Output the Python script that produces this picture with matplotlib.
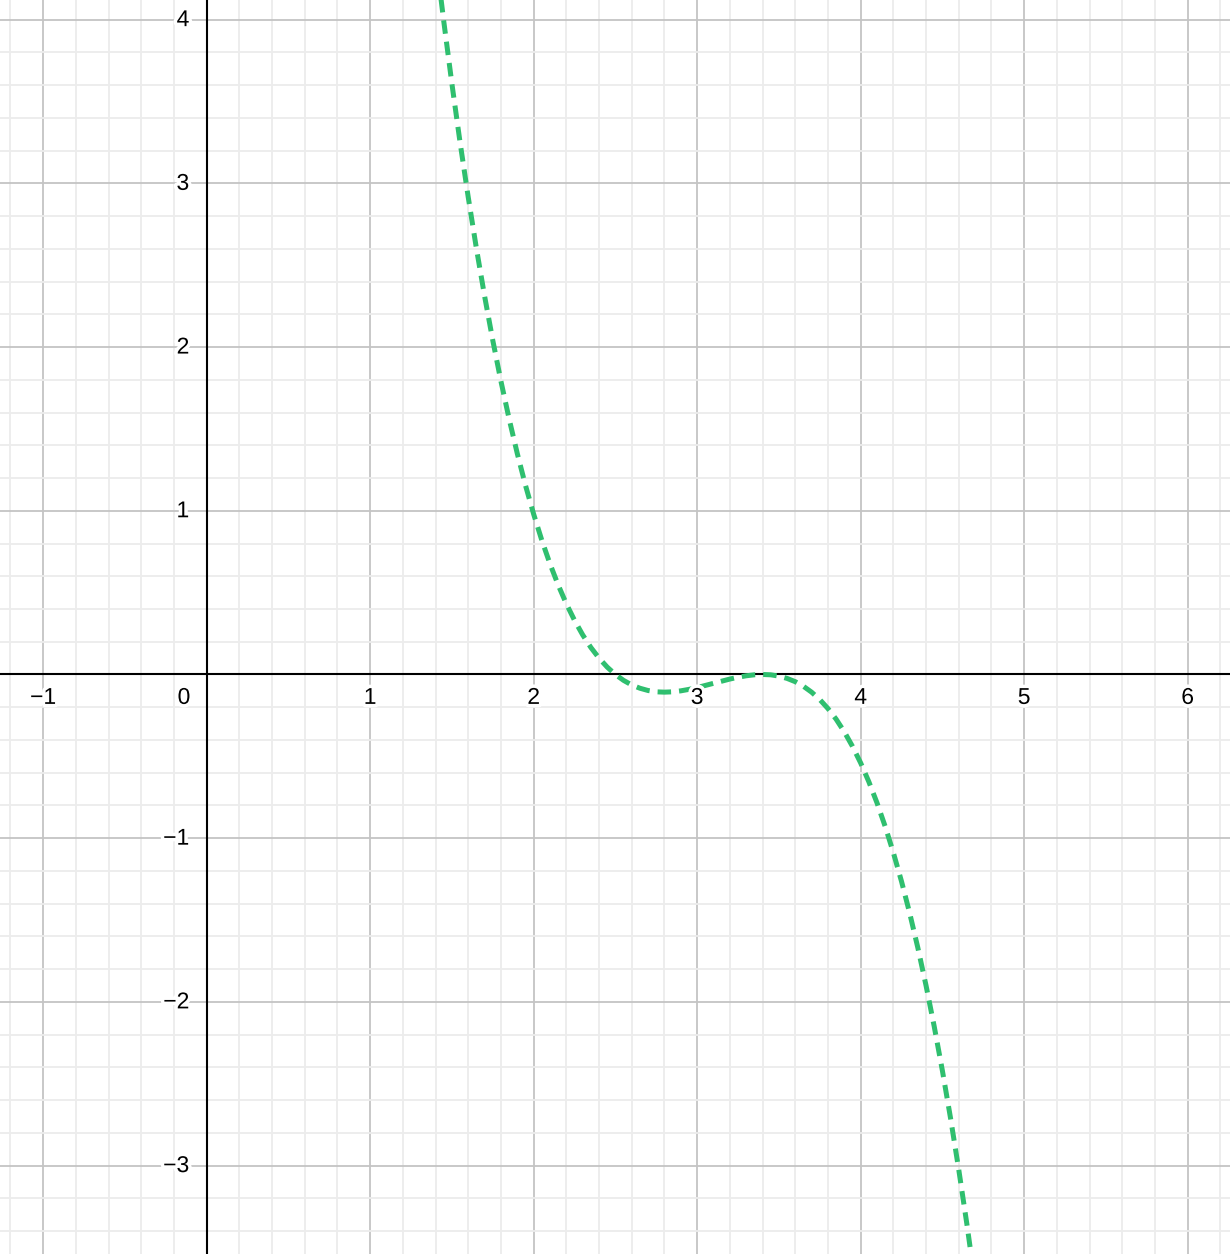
import matplotlib
matplotlib.use("Agg")
import matplotlib.pyplot as plt
from matplotlib.ticker import MultipleLocator
import matplotlib.patheffects as pe

# Curve points
x_vals = [1.40, 1.45, 1.50, 1.55, 1.60, 1.65, 1.70, 1.75, 1.80, 1.85, 1.90, 1.95,
          2.00, 2.05, 2.10, 2.15, 2.20, 2.25, 2.30, 2.35, 2.40, 2.45, 2.50, 2.55,
          2.60, 2.65, 2.70, 2.75, 2.80, 2.85, 2.90, 2.95, 3.00, 3.05, 3.10, 3.15,
          3.20, 3.25, 3.30, 3.35, 3.40, 3.45, 3.50, 3.55, 3.60, 3.65, 3.70, 3.75,
          3.80, 3.85, 3.90, 3.95, 4.00, 4.05, 4.10, 4.15, 4.20, 4.25, 4.30, 4.35,
          4.40, 4.45, 4.50, 4.55, 4.60, 4.65, 4.70]
y_vals = [4.400, 3.993, 3.610, 3.251, 2.916, 2.603, 2.312, 2.042, 1.792, 1.562, 1.350, 1.156,
          0.980, 0.820, 0.676, 0.547, 0.432, 0.331, 0.242, 0.165, 0.100, 0.045, 0.000, -0.036,
          -0.064, -0.084, -0.098, -0.106, -0.108, -0.106, -0.100, -0.091, -0.080, -0.067, -0.054, -0.041,
          -0.028, -0.017, -0.008, -0.002, 0.000, -0.002, -0.010, -0.024, -0.044, -0.072, -0.108, -0.153,
          -0.208, -0.273, -0.350, -0.439, -0.540, -0.655, -0.784, -0.928, -1.088, -1.264, -1.458, -1.670,
          -1.900, -2.150, -2.420, -2.711, -3.024, -3.359, -3.718]

x_tick_labels = [-1, 1, 2, 3, 4, 5, 6]
y_tick_labels = [-3, -2, -1, 1, 2, 3, 4]

fig = plt.figure(figsize=(12.3, 12.54), dpi=100)
ax = fig.add_axes([0, 0, 1, 1])
ax.set_xlim(-1.2636, 6.259)
ax.set_ylim(-3.54, 4.12)

for s in ax.spines.values():
    s.set_visible(False)

ax.xaxis.set_major_locator(MultipleLocator(1))
ax.yaxis.set_major_locator(MultipleLocator(1))
ax.xaxis.set_minor_locator(MultipleLocator(0.2))
ax.yaxis.set_minor_locator(MultipleLocator(0.2))
ax.tick_params(which="both", length=0, labelbottom=False, labelleft=False)
ax.grid(which="minor", color="#ececec", linewidth=1.3)
ax.grid(which="major", color="#c4c4c4", linewidth=1.3)
ax.set_axisbelow(True)

ax.axhline(0, color="black", linewidth=1.5, zorder=2)
ax.axvline(0, color="black", linewidth=1.5, zorder=2)

ax.plot(x_vals, y_vals, color="#2fbf6f", linewidth=3.6,
        linestyle=(0, (2.7, 1.6)), zorder=3, solid_capstyle="butt",
        dash_capstyle="butt")

font = dict(family=["Liberation Sans", "DejaVu Sans"], fontsize=16.5, color="black")
halo = [pe.withStroke(linewidth=5, foreground="white")]

def fmt(v):
    return ("\u2212" + str(abs(v))) if v < 0 else str(v)

for v in x_tick_labels:
    ax.annotate(fmt(v), xy=(v, 0), xytext=(0, -16.5), textcoords="offset points",
                ha="center", va="center", zorder=4, path_effects=halo, **font)
for v in y_tick_labels:
    ax.annotate(fmt(v), xy=(0, v), xytext=(-12.5, 0), textcoords="offset points",
                ha="right", va="center", zorder=4, path_effects=halo, **font)
ax.annotate("0", xy=(0, 0), xytext=(-16.3, -16.5), textcoords="offset points",
            ha="center", va="center", zorder=4, path_effects=halo, **font)

fig.savefig("out.png", dpi=100)
